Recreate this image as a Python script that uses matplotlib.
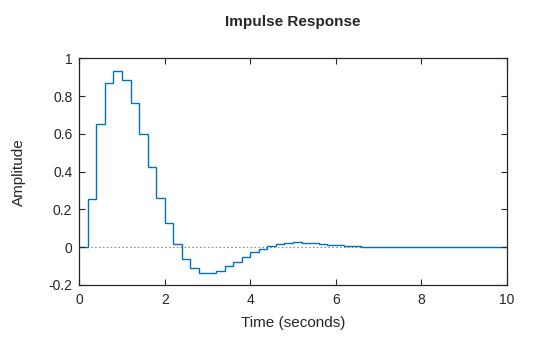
import matplotlib
matplotlib.use("Agg")
import matplotlib.pyplot as plt
import numpy as np

plt.rcParams['font.family'] = ['Liberation Sans', 'DejaVu Sans']

dt = 0.2
amplitude = [0.0, 0.253, 0.653, 0.869, 0.934, 0.887, 0.764, 0.601, 0.427, 0.263,
             0.127, 0.015, -0.063, -0.111, -0.137, -0.137, -0.126, -0.100, -0.079, -0.053,
             -0.026, -0.011, 0.004, 0.016, 0.021, 0.026, 0.021, 0.021, 0.016, 0.011,
             0.011, 0.005, 0.005, -0.001, -0.001, -0.001, -0.001, -0.001, -0.001, -0.001,
             -0.001, -0.001, -0.001, 0.001, 0.001, 0.001, 0.001, 0.001, 0.001, 0.001]
t = np.arange(len(amplitude) + 1) * dt

xticks = [0, 2, 4, 6, 8, 10]
yticks = [-0.2, 0, 0.2, 0.4, 0.6, 0.8, 1]
yticklabels = ['-0.2', '0', '0.2', '0.4', '0.6', '0.8', '1']

fig = plt.figure(figsize=(5.6, 3.37), dpi=100)
ax = fig.add_axes([79.3/560, 1-285/337, (506.7-79.3)/560, (285-58.3)/337])

ax.stairs(amplitude, t, color='#0072BD', linewidth=1.0, baseline=None)
ax.axhline(0, color='#8c8c8c', linestyle=(0, (1.5, 2)), linewidth=0.8, zorder=0)

ax.set_xlim(0, 10)
ax.set_ylim(-0.2, 1)
ax.set_xticks(xticks)
ax.set_xticklabels([str(v) for v in xticks])
ax.set_yticks(yticks)
ax.set_yticklabels(yticklabels)
ax.tick_params(direction='in', top=True, right=True, length=4, width=0.8,
               labelsize=10, colors='#262626', labelcolor='#262626')
ax.tick_params(axis='x', pad=6)
ax.tick_params(axis='y', pad=5)
for s in ax.spines.values():
    s.set_color('#262626')
    s.set_linewidth(0.9)

ax.set_title('Impulse Response', fontsize=11, fontweight='bold', color='#262626', pad=23)
ax.set_xlabel('Time (seconds)', fontsize=11, color='#262626', labelpad=6)
ax.set_ylabel('Amplitude', fontsize=11, color='#262626', labelpad=16)

fig.savefig('out.png', dpi=100)
